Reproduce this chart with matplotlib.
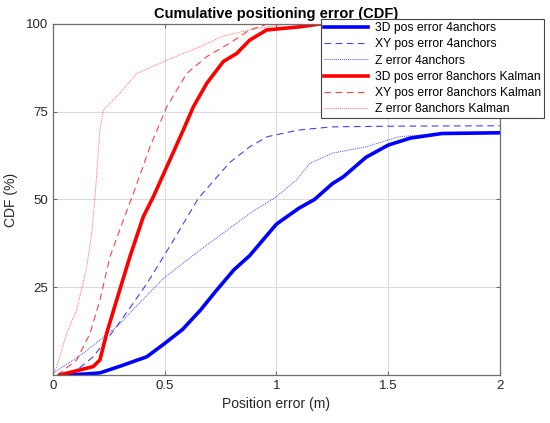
import numpy as np
import matplotlib.pyplot as plt

plt.rcParams['font.family'] = ['Liberation Sans', 'DejaVu Sans']

# ============================================================
# Data (position error in m, CDF in %)
# ============================================================

x_3d_4 = [0.05, 0.15, 0.21, 0.30, 0.42, 0.50, 0.58, 0.66, 0.73, 0.81, 0.88,
          1.00, 1.10, 1.17, 1.25, 1.30, 1.40, 1.50, 1.60, 1.74, 2.00]
y_3d_4 = [0.0, 0.3, 0.6, 2.5, 5.2, 9.0, 13.0, 18.5, 24.0, 30.0, 34.0,
          43.0, 47.5, 50.0, 54.5, 56.5, 62.0, 65.5, 67.5, 68.8, 69.0]

x_xy_4 = [0.08, 0.18, 0.285, 0.42, 0.54, 0.65, 0.79, 0.88, 0.96, 1.10,
          1.25, 1.55, 2.00]
y_xy_4 = [0.0, 5.2, 13.8, 26.0, 38.5, 50.3, 60.5, 65.0, 67.9, 69.8,
          70.7, 70.9, 71.0]

x_z_4 = [0.0, 0.136, 0.285, 0.494, 0.658, 0.88, 1.00, 1.09, 1.15, 1.25,
         1.40, 1.55, 1.74, 2.00]
y_z_4 = [0.5, 6.2, 13.8, 27.5, 35.6, 46.0, 50.8, 55.6, 60.3, 63.2,
         65.0, 67.9, 68.8, 69.1]

x_3d_8 = [0.03, 0.18, 0.21, 0.24, 0.285, 0.344, 0.404, 0.449, 0.509, 0.583,
          0.628, 0.688, 0.762, 0.822, 0.88, 0.956, 1.105, 1.195, 2.00]
y_3d_8 = [0.0, 2.4, 4.3, 11.9, 21.4, 33.7, 45.1, 50.8, 59.3, 69.8,
          76.4, 83.1, 89.3, 91.6, 95.4, 98.3, 99.2, 100.0, 100.0]

x_xy_8 = [0.02, 0.106, 0.166, 0.21, 0.255, 0.315, 0.36, 0.434, 0.509,
          0.598, 0.688, 0.79, 0.88, 0.96, 2.00]
y_xy_8 = [0.0, 4.3, 11.9, 21.4, 33.7, 44.2, 51.8, 65.0, 76.4,
          85.9, 90.7, 94.5, 98.3, 100.0, 100.0]

x_z_8 = [0.0, 0.017, 0.061, 0.106, 0.151, 0.173, 0.188, 0.21, 0.225, 0.285,
         0.375, 0.509, 0.658, 0.762, 0.88, 0.956, 1.05, 2.00]
y_z_8 = [0.0, 2.4, 11.9, 18.5, 30.9, 40.4, 50.8, 69.8, 75.5, 79.3,
         85.9, 89.7, 93.5, 96.6, 98.3, 99.2, 100.0, 100.0]

labels = ['3D pos error 4anchors', 'XY pos error 4anchors', 'Z error 4anchors',
          '3D pos error 8anchors Kalman', 'XY pos error 8anchors Kalman',
          'Z error 8anchors Kalman']

x_ticks = [0, 0.5, 1, 1.5, 2]
x_tick_labels = ['0', '0.5', '1', '1.5', '2']
y_ticks = [25, 50, 75, 100]

# ============================================================
# Figure
# ============================================================

fig = plt.figure(figsize=(5.5, 4.23), dpi=100)
ax = fig.add_axes([0.0964, 0.1135, 0.8126, 0.8298])

ax.plot(x_3d_4, y_3d_4, color='#0000ff', lw=2.6, label=labels[0])
ax.plot(x_xy_4, y_xy_4, color='#0000ff', lw=0.8, ls=(0, (6, 4)), alpha=0.75, label=labels[1])
ax.plot(x_z_4, y_z_4, color='#0000ff', lw=0.7, ls=(0, (1, 1)), alpha=0.7, label=labels[2])
ax.plot(x_3d_8, y_3d_8, color='#ff0000', lw=2.6, label=labels[3])
ax.plot(x_xy_8, y_xy_8, color='#ff0000', lw=0.8, ls=(0, (6, 4)), alpha=0.75, label=labels[4])
ax.plot(x_z_8, y_z_8, color='#ff0000', lw=0.7, ls=(0, (1, 1)), alpha=0.6, label=labels[5])

ax.set_xlim(0, 2)
ax.set_ylim(0, 100)
ax.set_xticks(x_ticks)
ax.set_xticklabels(x_tick_labels)
ax.set_yticks(y_ticks)

ax.grid(True, color='#dcdcdc', lw=0.8)
ax.set_axisbelow(True)

for sp in ax.spines.values():
    sp.set_color('#6e6e6e')
    sp.set_linewidth(0.9)

ax.tick_params(direction='in', length=3, width=0.8, color='#6e6e6e',
               labelsize=9.5, labelcolor='#262626', top=True, right=True)

ax.set_xlabel('Position error (m)', fontsize=10, color='#262626', labelpad=4)
ax.set_ylabel('CDF (%)', fontsize=10, color='#262626', labelpad=6)
ax.set_title('Cumulative positioning error (CDF)', fontsize=10.5,
             fontweight='bold', pad=4)

leg = ax.legend(loc='upper right', bbox_to_anchor=(0.989, 0.955),
                bbox_transform=fig.transFigure, fontsize=8.7,
                fancybox=False, framealpha=1, edgecolor='#444444',
                handlelength=3.6, labelspacing=0.35, borderpad=0.25,
                handletextpad=0.6, borderaxespad=0)
leg.get_frame().set_linewidth(0.8)

fig.savefig('out.png', dpi=100)
